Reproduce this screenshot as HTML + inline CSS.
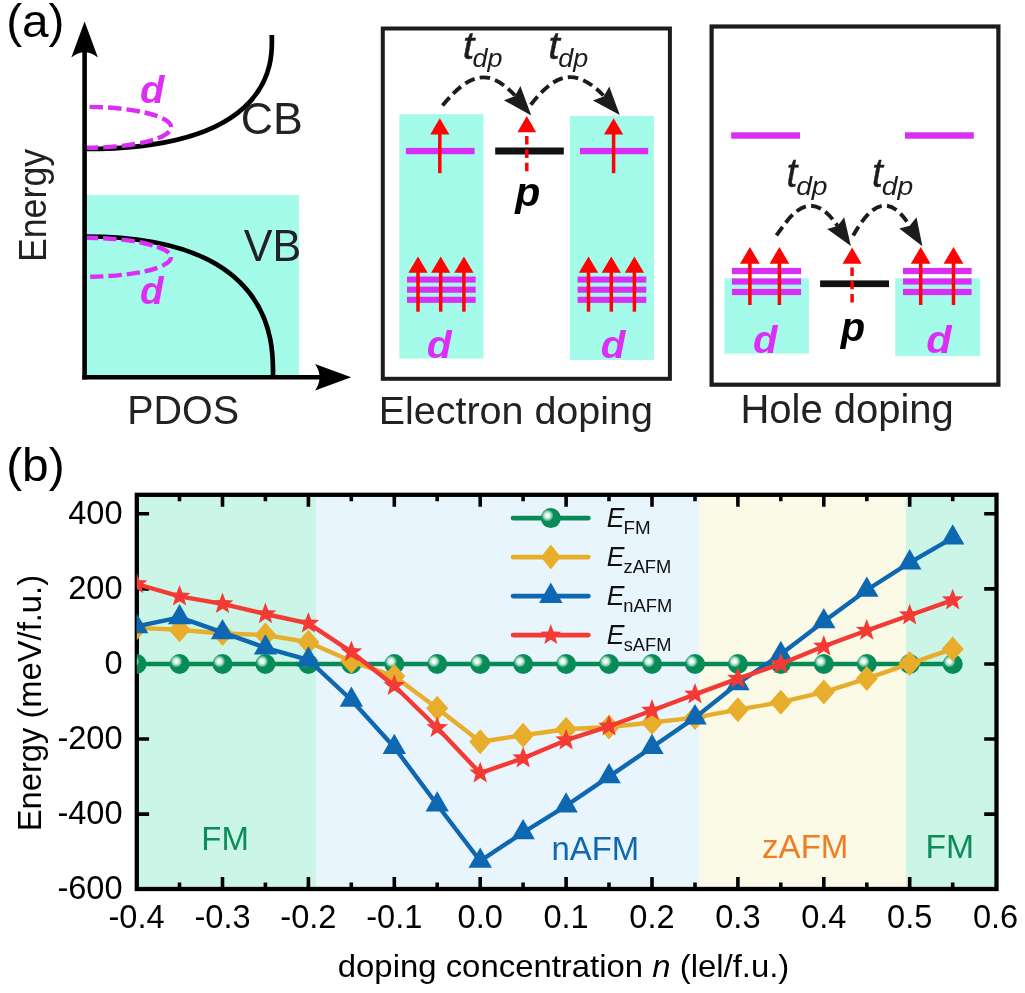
<!DOCTYPE html>
<html><head><meta charset="utf-8"><style>
html,body{margin:0;padding:0;background:#fff;}
body{width:1025px;height:993px;overflow:hidden;}
svg{display:block;will-change:transform;font-family:"Liberation Sans", sans-serif;}
</style></head><body>
<svg width="1025" height="993" viewBox="0 0 1025 993">
<rect x="84" y="195" width="215" height="182" fill="#a5fbea"/>
<path d="M85,149 C283.4,149 271.8,52 271.8,35" fill="none" stroke="#000" stroke-width="4.7"/>
<path d="M85,236.5 C279.9,236.5 273,349.4 273,377" fill="none" stroke="#000" stroke-width="4.7"/>
<path d="M85,147.8 A86.2,20.5 0 0 0 85,106.8" fill="none" stroke="#da2ef5" stroke-width="4.4" stroke-dasharray="13.4 4.99"/>
<path d="M85,237.8 A86.1,19.5 0 0 1 85,276.8" fill="none" stroke="#da2ef5" stroke-width="4.4" stroke-dasharray="13.3 4.9"/>
<line x1="84.6" y1="50" x2="84.6" y2="379.5" stroke="#000" stroke-width="4.6"/>
<line x1="82.3" y1="377.2" x2="330" y2="377.2" stroke="#000" stroke-width="4.6"/>
<path d="M84.6,21.5 L97.9,57.4 Q84.6,47 71.3,57.4 Z" fill="#000"/>
<path d="M351.2,377.2 L315.1,363.9 Q324,377.2 315.1,390.5 Z" fill="#000"/>
<rect x="382.8" y="28.5" width="287.1" height="350.3" fill="none" stroke="#1c1c1c" stroke-width="4"/>
<rect x="399.3" y="114.2" width="84.2" height="244.3" fill="#a5fbea"/>
<rect x="569.9" y="116" width="84" height="244" fill="#a5fbea"/>
<rect x="405.9" y="147.9" width="68.7" height="6.3" fill="#da2ef5"/>
<rect x="495.2" y="147.5" width="68.6" height="7" fill="#111"/>
<rect x="579.9" y="147.9" width="68.3" height="6.3" fill="#da2ef5"/>
<path d="M439.8,118.3 L449.40000000000003,134.5 L430.2,134.5 Z" fill="#fd0303"/><line x1="439.8" y1="133.5" x2="439.8" y2="173.2" stroke="#fd0303" stroke-width="3.5"/>
<path d="M526.8,115.9 L536.15,132.3 L517.4499999999999,132.3 Z" fill="#fd0303"/><line x1="526.8" y1="136.10000000000002" x2="526.8" y2="171.3" stroke="#fd0303" stroke-width="3.5" stroke-dasharray="8.5 4.8"/>
<path d="M613.6,118.3 L623.2,134.5 L604.0,134.5 Z" fill="#fd0303"/><line x1="613.6" y1="133.5" x2="613.6" y2="173.2" stroke="#fd0303" stroke-width="3.5"/>
<rect x="407" y="276.55" width="68.7" height="6.1" fill="#da2ef5"/>
<rect x="577.6" y="276.55" width="68.7" height="6.1" fill="#da2ef5"/>
<rect x="407" y="286.65" width="68.7" height="6.1" fill="#da2ef5"/>
<rect x="577.6" y="286.65" width="68.7" height="6.1" fill="#da2ef5"/>
<rect x="407" y="296.75" width="68.7" height="6.1" fill="#da2ef5"/>
<rect x="577.6" y="296.75" width="68.7" height="6.1" fill="#da2ef5"/>
<path d="M418,256.6 L427.65,272.8 L408.35,272.8 Z" fill="#fd0303"/><line x1="418" y1="271.8" x2="418" y2="311.7" stroke="#fd0303" stroke-width="3.5"/>
<path d="M440.7,256.6 L450.34999999999997,272.8 L431.05,272.8 Z" fill="#fd0303"/><line x1="440.7" y1="271.8" x2="440.7" y2="311.7" stroke="#fd0303" stroke-width="3.5"/>
<path d="M463.9,256.6 L473.54999999999995,272.8 L454.25,272.8 Z" fill="#fd0303"/><line x1="463.9" y1="271.8" x2="463.9" y2="311.7" stroke="#fd0303" stroke-width="3.5"/>
<path d="M588.5,256.6 L598.15,272.8 L578.85,272.8 Z" fill="#fd0303"/><line x1="588.5" y1="271.8" x2="588.5" y2="311.7" stroke="#fd0303" stroke-width="3.5"/>
<path d="M611.3,256.6 L620.9499999999999,272.8 L601.65,272.8 Z" fill="#fd0303"/><line x1="611.3" y1="271.8" x2="611.3" y2="311.7" stroke="#fd0303" stroke-width="3.5"/>
<path d="M634.4,256.6 L644.05,272.8 L624.75,272.8 Z" fill="#fd0303"/><line x1="634.4" y1="271.8" x2="634.4" y2="311.7" stroke="#fd0303" stroke-width="3.5"/>
<path d="M442.5,105.5 C470.7,71.5 489.1,68.4 515,95.5" fill="none" stroke="#1c1c1c" stroke-width="3.9" stroke-dasharray="10.5 5.3"/>
<path d="M531.3,115.5 L520.4,86 L514.8,96.2 L504,100.3 Z" fill="#1c1c1c"/>
<path d="M530.8,104.8 C555.1,73.4 574.9,66.5 603.5,95.5" fill="none" stroke="#1c1c1c" stroke-width="3.9" stroke-dasharray="10.5 5.3"/>
<path d="M619.8,115.1 L609.3,86.4 L603.7,96.4 L592.9,100.4 Z" fill="#1c1c1c"/>
<rect x="711.6" y="26.5" width="286.8" height="358.2" fill="none" stroke="#1c1c1c" stroke-width="4.2"/>
<rect x="724.4" y="278.3" width="84.5" height="75.4" fill="#a5fbea"/>
<rect x="895.2" y="278.3" width="84.8" height="77.9" fill="#a5fbea"/>
<rect x="731.2" y="132.3" width="68.8" height="6.4" fill="#da2ef5"/>
<rect x="905" y="132.3" width="68.8" height="6.4" fill="#da2ef5"/>
<rect x="731.9" y="267.9" width="69.2" height="6.2" fill="#da2ef5"/>
<rect x="903" y="267.9" width="68.6" height="6.2" fill="#da2ef5"/>
<rect x="731.9" y="278.4" width="69.2" height="6.2" fill="#da2ef5"/>
<rect x="903" y="278.4" width="68.6" height="6.2" fill="#da2ef5"/>
<rect x="731.9" y="288.9" width="69.2" height="6.2" fill="#da2ef5"/>
<rect x="903" y="288.9" width="68.6" height="6.2" fill="#da2ef5"/>
<rect x="820.1" y="280.4" width="68.9" height="6.7" fill="#111"/>
<path d="M749.9,247 L759.8,263.7 L740.0,263.7 Z" fill="#fd0303"/><line x1="749.9" y1="262.7" x2="749.9" y2="305" stroke="#fd0303" stroke-width="3.5"/>
<path d="M779.4,247 L789.3,263.7 L769.5,263.7 Z" fill="#fd0303"/><line x1="779.4" y1="262.7" x2="779.4" y2="305" stroke="#fd0303" stroke-width="3.5"/>
<path d="M920.7,247 L930.6,263.7 L910.8000000000001,263.7 Z" fill="#fd0303"/><line x1="920.7" y1="262.7" x2="920.7" y2="305" stroke="#fd0303" stroke-width="3.5"/>
<path d="M953.5,247 L963.4,263.7 L943.6,263.7 Z" fill="#fd0303"/><line x1="953.5" y1="262.7" x2="953.5" y2="305" stroke="#fd0303" stroke-width="3.5"/>
<path d="M852.1,247.4 L861.6,263.7 L842.6,263.7 Z" fill="#fd0303"/><line x1="852.1" y1="267.5" x2="852.1" y2="305" stroke="#fd0303" stroke-width="3.5" stroke-dasharray="8.5 4.8"/>
<path d="M776.4,235.4 C788.7,218.9 808.7,183.1 837.6,226.1" fill="none" stroke="#1c1c1c" stroke-width="3.9" stroke-dasharray="10.5 5.3"/>
<path d="M850.9,246 L844.2,217.3 L837.6,226.1 L827.2,229 Z" fill="#1c1c1c"/>
<path d="M853.2,235.4 C865.1,215.1 884.8,185.1 909.7,225.8" fill="none" stroke="#1c1c1c" stroke-width="3.9" stroke-dasharray="10.5 5.3"/>
<path d="M922.4,246.3 L916.5,217.3 L909.7,225.8 L899.3,228.4 Z" fill="#1c1c1c"/>
<defs><radialGradient id="sg" cx="0.335" cy="0.37" r="0.31" fx="0.335" fy="0.37"><stop offset="0" stop-color="#ffffff"/><stop offset="0.3" stop-color="#eef8f3"/><stop offset="0.62" stop-color="#9bd8bd"/><stop offset="0.86" stop-color="#3aa87c"/><stop offset="1" stop-color="#078c58"/></radialGradient><clipPath id="pc"><rect x="136.8" y="494.8" width="859.7" height="394.2"/></clipPath></defs>
<rect x="136.8" y="494.8" width="179.39999999999998" height="394.2" fill="#cbf5e6"/>
<rect x="316.2" y="494.8" width="383.40000000000003" height="394.2" fill="#e8f5fc"/>
<rect x="699.6" y="494.8" width="206.29999999999995" height="394.2" fill="#fbfae7"/>
<rect x="905.9" y="494.8" width="90.60000000000002" height="394.2" fill="#cbf5e6"/>
<rect x="136.8" y="494.8" width="859.7" height="394.2" fill="none" stroke="#000" stroke-width="4.3"/>
<path d="M179.5,889.0 V882.5 M179.5,494.8 V501.3 M222.5,889.0 V877.0 M222.5,494.8 V506.8 M265.4,889.0 V882.5 M265.4,494.8 V501.3 M308.4,889.0 V877.0 M308.4,494.8 V506.8 M351.3,889.0 V882.5 M351.3,494.8 V501.3 M394.3,889.0 V877.0 M394.3,494.8 V506.8 M437.2,889.0 V882.5 M437.2,494.8 V501.3 M480.2,889.0 V877.0 M480.2,494.8 V506.8 M523.1,889.0 V882.5 M523.1,494.8 V501.3 M566.1,889.0 V877.0 M566.1,494.8 V506.8 M609.0,889.0 V882.5 M609.0,494.8 V501.3 M652.0,889.0 V877.0 M652.0,494.8 V506.8 M695.0,889.0 V882.5 M695.0,494.8 V501.3 M737.9,889.0 V877.0 M737.9,494.8 V506.8 M780.8,889.0 V882.5 M780.8,494.8 V501.3 M823.8,889.0 V877.0 M823.8,494.8 V506.8 M866.8,889.0 V882.5 M866.8,494.8 V501.3 M909.7,889.0 V877.0 M909.7,494.8 V506.8 M952.7,889.0 V882.5 M952.7,494.8 V501.3 M136.8,814.1 H149.10000000000002 M996.5,814.1 H984.2 M136.8,739.0 H149.10000000000002 M996.5,739.0 H984.2 M136.8,664.0 H149.10000000000002 M996.5,664.0 H984.2 M136.8,588.9 H149.10000000000002 M996.5,588.9 H984.2 M136.8,513.8 H149.10000000000002 M996.5,513.8 H984.2" stroke="#000" stroke-width="3.6" fill="none"/>
<g clip-path="url(#pc)">
<polyline points="136.6,664.0 179.6,664.0 222.5,664.0 265.4,664.0 308.4,664.0 351.4,664.0 394.3,664.0 437.2,664.0 480.2,664.0 523.1,664.0 566.1,664.0 609.0,664.0 652.0,664.0 695.0,664.0 737.9,664.0 780.8,664.0 823.8,664.0 866.8,664.0 909.7,664.0 952.7,664.0" fill="none" stroke="#088a57" stroke-width="4.4" stroke-linejoin="round"/>
<circle cx="136.6" cy="664.0" r="10" fill="url(#sg)"/>
<circle cx="179.6" cy="664.0" r="10" fill="url(#sg)"/>
<circle cx="222.5" cy="664.0" r="10" fill="url(#sg)"/>
<circle cx="265.4" cy="664.0" r="10" fill="url(#sg)"/>
<circle cx="308.4" cy="664.0" r="10" fill="url(#sg)"/>
<circle cx="351.4" cy="664.0" r="10" fill="url(#sg)"/>
<circle cx="394.3" cy="664.0" r="10" fill="url(#sg)"/>
<circle cx="437.2" cy="664.0" r="10" fill="url(#sg)"/>
<circle cx="480.2" cy="664.0" r="10" fill="url(#sg)"/>
<circle cx="523.1" cy="664.0" r="10" fill="url(#sg)"/>
<circle cx="566.1" cy="664.0" r="10" fill="url(#sg)"/>
<circle cx="609.0" cy="664.0" r="10" fill="url(#sg)"/>
<circle cx="652.0" cy="664.0" r="10" fill="url(#sg)"/>
<circle cx="695.0" cy="664.0" r="10" fill="url(#sg)"/>
<circle cx="737.9" cy="664.0" r="10" fill="url(#sg)"/>
<circle cx="780.8" cy="664.0" r="10" fill="url(#sg)"/>
<circle cx="823.8" cy="664.0" r="10" fill="url(#sg)"/>
<circle cx="866.8" cy="664.0" r="10" fill="url(#sg)"/>
<circle cx="909.7" cy="664.0" r="10" fill="url(#sg)"/>
<circle cx="952.7" cy="664.0" r="10" fill="url(#sg)"/>
<polyline points="136.6,627.9 179.6,629.8 222.5,633.5 265.4,635.0 308.4,642.2 351.4,661.3 394.3,676.3 437.2,708.2 480.2,741.7 523.1,735.3 566.1,729.3 609.0,727.0 652.0,722.5 695.0,717.6 737.9,709.7 780.8,702.2 823.8,692.1 866.8,678.6 909.7,663.6 952.7,648.9" fill="none" stroke="#e9ad2c" stroke-width="4.4" stroke-linejoin="round"/>
<path d="M136.6,615.4 L147.6,627.9 L136.6,640.4 L125.6,627.9 Z" fill="#e9ad2c"/>
<path d="M179.6,617.3 L190.6,629.8 L179.6,642.3 L168.6,629.8 Z" fill="#e9ad2c"/>
<path d="M222.5,621.0 L233.5,633.5 L222.5,646.0 L211.5,633.5 Z" fill="#e9ad2c"/>
<path d="M265.4,622.5 L276.4,635.0 L265.4,647.5 L254.4,635.0 Z" fill="#e9ad2c"/>
<path d="M308.4,629.7 L319.4,642.2 L308.4,654.7 L297.4,642.2 Z" fill="#e9ad2c"/>
<path d="M351.4,648.8 L362.4,661.3 L351.4,673.8 L340.4,661.3 Z" fill="#e9ad2c"/>
<path d="M394.3,663.8 L405.3,676.3 L394.3,688.8 L383.3,676.3 Z" fill="#e9ad2c"/>
<path d="M437.2,695.7 L448.2,708.2 L437.2,720.7 L426.2,708.2 Z" fill="#e9ad2c"/>
<path d="M480.2,729.2 L491.2,741.7 L480.2,754.2 L469.2,741.7 Z" fill="#e9ad2c"/>
<path d="M523.1,722.8 L534.1,735.3 L523.1,747.8 L512.1,735.3 Z" fill="#e9ad2c"/>
<path d="M566.1,716.8 L577.1,729.3 L566.1,741.8 L555.1,729.3 Z" fill="#e9ad2c"/>
<path d="M609.0,714.5 L620.0,727.0 L609.0,739.5 L598.0,727.0 Z" fill="#e9ad2c"/>
<path d="M652.0,710.0 L663.0,722.5 L652.0,735.0 L641.0,722.5 Z" fill="#e9ad2c"/>
<path d="M695.0,705.1 L706.0,717.6 L695.0,730.1 L684.0,717.6 Z" fill="#e9ad2c"/>
<path d="M737.9,697.2 L748.9,709.7 L737.9,722.2 L726.9,709.7 Z" fill="#e9ad2c"/>
<path d="M780.8,689.7 L791.8,702.2 L780.8,714.7 L769.8,702.2 Z" fill="#e9ad2c"/>
<path d="M823.8,679.6 L834.8,692.1 L823.8,704.6 L812.8,692.1 Z" fill="#e9ad2c"/>
<path d="M866.8,666.1 L877.8,678.6 L866.8,691.1 L855.8,678.6 Z" fill="#e9ad2c"/>
<path d="M909.7,651.1 L920.7,663.6 L909.7,676.1 L898.7,663.6 Z" fill="#e9ad2c"/>
<path d="M952.7,636.4 L963.7,648.9 L952.7,661.4 L941.7,648.9 Z" fill="#e9ad2c"/>
<polyline points="136.6,626.4 179.6,617.4 222.5,632.4 265.4,647.8 308.4,659.8 351.4,700.0 394.3,747.3 437.2,804.7 480.2,861.0 523.1,832.5 566.1,805.8 609.0,776.6 652.0,747.3 695.0,717.6 737.9,683.5 780.8,654.2 823.8,621.5 866.8,590.0 909.7,562.6 952.7,537.8" fill="none" stroke="#0e67b1" stroke-width="4.4" stroke-linejoin="round"/>
<path d="M136.6,612.9 L148.3,633.2 L124.9,633.2 Z" fill="#0e67b1"/>
<path d="M179.6,603.9 L191.2,624.2 L167.9,624.2 Z" fill="#0e67b1"/>
<path d="M222.5,618.9 L234.2,639.2 L210.8,639.2 Z" fill="#0e67b1"/>
<path d="M265.4,634.3 L277.1,654.6 L253.8,654.6 Z" fill="#0e67b1"/>
<path d="M308.4,646.3 L320.1,666.6 L296.7,666.6 Z" fill="#0e67b1"/>
<path d="M351.4,686.5 L363.1,706.7 L339.7,706.7 Z" fill="#0e67b1"/>
<path d="M394.3,733.8 L406.0,754.0 L382.6,754.0 Z" fill="#0e67b1"/>
<path d="M437.2,791.2 L448.9,811.5 L425.6,811.5 Z" fill="#0e67b1"/>
<path d="M480.2,847.5 L491.9,867.8 L468.5,867.8 Z" fill="#0e67b1"/>
<path d="M523.1,819.0 L534.9,839.2 L511.4,839.2 Z" fill="#0e67b1"/>
<path d="M566.1,792.3 L577.8,812.6 L554.4,812.6 Z" fill="#0e67b1"/>
<path d="M609.0,763.1 L620.8,783.3 L597.3,783.3 Z" fill="#0e67b1"/>
<path d="M652.0,733.8 L663.7,754.0 L640.3,754.0 Z" fill="#0e67b1"/>
<path d="M695.0,704.1 L706.7,724.4 L683.2,724.4 Z" fill="#0e67b1"/>
<path d="M737.9,670.0 L749.6,690.2 L726.2,690.2 Z" fill="#0e67b1"/>
<path d="M780.8,640.7 L792.5,660.9 L769.1,660.9 Z" fill="#0e67b1"/>
<path d="M823.8,608.0 L835.5,628.3 L812.1,628.3 Z" fill="#0e67b1"/>
<path d="M866.8,576.5 L878.5,596.8 L855.0,596.8 Z" fill="#0e67b1"/>
<path d="M909.7,549.1 L921.4,569.4 L898.0,569.4 Z" fill="#0e67b1"/>
<path d="M952.7,524.3 L964.4,544.6 L941.0,544.6 Z" fill="#0e67b1"/>
<polyline points="136.6,584.0 179.6,596.4 222.5,603.9 265.4,614.0 308.4,623.4 351.4,651.9 394.3,685.7 437.2,727.8 480.2,773.2 523.1,758.2 566.1,740.2 609.0,726.3 652.0,710.5 695.0,694.4 737.9,678.6 780.8,664.0 823.8,646.3 866.8,630.5 909.7,615.2 952.7,600.1" fill="none" stroke="#f33a35" stroke-width="4.4" stroke-linejoin="round"/>
<polygon points="136.6,572.6 139.4,580.1 147.4,580.5 141.2,585.5 143.3,593.2 136.6,588.8 129.9,593.2 132.0,585.5 125.8,580.5 133.8,580.1" fill="#f33a35"/>
<polygon points="179.6,585.0 182.4,592.5 190.4,592.9 184.1,597.9 186.3,605.6 179.6,601.2 172.8,605.6 175.0,597.9 168.7,592.9 176.7,592.5" fill="#f33a35"/>
<polygon points="222.5,592.5 225.3,600.0 233.3,600.4 227.1,605.4 229.2,613.1 222.5,608.7 215.8,613.1 217.9,605.4 211.7,600.4 219.7,600.0" fill="#f33a35"/>
<polygon points="265.4,602.6 268.3,610.2 276.3,610.5 270.0,615.5 272.2,623.2 265.4,618.8 258.7,623.2 260.9,615.5 254.6,610.5 262.6,610.2" fill="#f33a35"/>
<polygon points="308.4,612.0 311.2,619.5 319.2,619.9 313.0,624.9 315.1,632.6 308.4,628.2 301.7,632.6 303.8,624.9 297.6,619.9 305.6,619.5" fill="#f33a35"/>
<polygon points="351.4,640.5 354.2,648.1 362.2,648.4 355.9,653.4 358.1,661.2 351.4,656.7 344.6,661.2 346.8,653.4 340.5,648.4 348.5,648.1" fill="#f33a35"/>
<polygon points="394.3,674.3 397.1,681.8 405.1,682.2 398.9,687.2 401.0,694.9 394.3,690.5 387.6,694.9 389.7,687.2 383.5,682.2 391.5,681.8" fill="#f33a35"/>
<polygon points="437.2,716.4 440.1,723.9 448.1,724.2 441.8,729.2 444.0,737.0 437.2,732.6 430.5,737.0 432.7,729.2 426.4,724.2 434.4,723.9" fill="#f33a35"/>
<polygon points="480.2,761.8 483.0,769.3 491.0,769.7 484.8,774.7 486.9,782.4 480.2,778.0 473.5,782.4 475.6,774.7 469.4,769.7 477.4,769.3" fill="#f33a35"/>
<polygon points="523.1,746.8 526.0,754.3 534.0,754.6 527.7,759.6 529.9,767.4 523.1,763.0 516.4,767.4 518.6,759.6 512.3,754.6 520.3,754.3" fill="#f33a35"/>
<polygon points="566.1,728.8 568.9,736.3 576.9,736.6 570.7,741.6 572.8,749.4 566.1,744.9 559.4,749.4 561.5,741.6 555.3,736.6 563.3,736.3" fill="#f33a35"/>
<polygon points="609.0,714.9 611.9,722.4 619.9,722.7 613.6,727.7 615.8,735.5 609.0,731.0 602.3,735.5 604.5,727.7 598.2,722.7 606.2,722.4" fill="#f33a35"/>
<polygon points="652.0,699.1 654.8,706.6 662.8,707.0 656.6,712.0 658.7,719.7 652.0,715.3 645.3,719.7 647.4,712.0 641.2,707.0 649.2,706.6" fill="#f33a35"/>
<polygon points="695.0,683.0 697.8,690.5 705.8,690.8 699.5,695.8 701.7,703.6 695.0,699.1 688.2,703.6 690.4,695.8 684.1,690.8 692.1,690.5" fill="#f33a35"/>
<polygon points="737.9,667.2 740.7,674.7 748.7,675.1 742.5,680.1 744.6,687.8 737.9,683.4 731.2,687.8 733.3,680.1 727.1,675.1 735.1,674.7" fill="#f33a35"/>
<polygon points="780.8,652.6 783.7,660.1 791.7,660.4 785.4,665.4 787.6,673.2 780.8,668.7 774.1,673.2 776.3,665.4 770.0,660.4 778.0,660.1" fill="#f33a35"/>
<polygon points="823.8,634.9 826.6,642.4 834.6,642.8 828.4,647.8 830.5,655.5 823.8,651.1 817.1,655.5 819.2,647.8 813.0,642.8 821.0,642.4" fill="#f33a35"/>
<polygon points="866.8,619.1 869.6,626.7 877.6,627.0 871.3,632.0 873.5,639.8 866.8,635.3 860.0,639.8 862.2,632.0 855.9,627.0 863.9,626.7" fill="#f33a35"/>
<polygon points="909.7,603.8 912.5,611.3 920.5,611.6 914.3,616.6 916.4,624.4 909.7,619.9 903.0,624.4 905.1,616.6 898.9,611.6 906.9,611.3" fill="#f33a35"/>
<polygon points="952.7,588.7 955.5,596.3 963.5,596.6 957.2,601.6 959.4,609.4 952.7,604.9 945.9,609.4 948.1,601.6 941.8,596.6 949.8,596.3" fill="#f33a35"/>
</g>
<line x1="513" y1="518.1" x2="588.4" y2="518.1" stroke="#088a57" stroke-width="4.6" stroke-linecap="round"/>
<line x1="513" y1="557.1" x2="588.4" y2="557.1" stroke="#e9ad2c" stroke-width="4.6" stroke-linecap="round"/>
<line x1="513" y1="596.1" x2="588.4" y2="596.1" stroke="#0e67b1" stroke-width="4.6" stroke-linecap="round"/>
<line x1="513" y1="635.1" x2="588.4" y2="635.1" stroke="#f33a35" stroke-width="4.6" stroke-linecap="round"/>
<circle cx="550.8" cy="518.1" r="10" fill="url(#sg)"/>
<path d="M550.8,544.6 L560.8,557.1 L550.8,569.6 L540.8,557.1 Z" fill="#e9ad2c"/>
<path d="M550.8,582.6 L562.5,602.9 L539.1,602.9 Z" fill="#0e67b1"/>
<polygon points="550.8,624.1 553.5,631.4 561.3,631.7 555.2,636.5 557.3,644.0 550.8,639.7 544.3,644.0 546.4,636.5 540.3,631.7 548.1,631.4" fill="#f33a35"/>
<text x="122.6" y="899.4" font-size="32.6" text-anchor="end" fill="#000">-600</text>
<text x="122.6" y="824.3" font-size="32.6" text-anchor="end" fill="#000">-400</text>
<text x="122.6" y="749.2" font-size="32.6" text-anchor="end" fill="#000">-200</text>
<text x="122.6" y="674.2" font-size="32.6" text-anchor="end" fill="#000">0</text>
<text x="122.6" y="599.1" font-size="32.6" text-anchor="end" fill="#000">200</text>
<text x="122.6" y="524.0" font-size="32.6" text-anchor="end" fill="#000">400</text>
<text x="136.6" y="927.8" font-size="32.6" text-anchor="middle" fill="#000">-0.4</text>
<text x="222.5" y="927.8" font-size="32.6" text-anchor="middle" fill="#000">-0.3</text>
<text x="308.4" y="927.8" font-size="32.6" text-anchor="middle" fill="#000">-0.2</text>
<text x="394.3" y="927.8" font-size="32.6" text-anchor="middle" fill="#000">-0.1</text>
<text x="480.2" y="927.8" font-size="32.6" text-anchor="middle" fill="#000">0.0</text>
<text x="566.1" y="927.8" font-size="32.6" text-anchor="middle" fill="#000">0.1</text>
<text x="652.0" y="927.8" font-size="32.6" text-anchor="middle" fill="#000">0.2</text>
<text x="737.9" y="927.8" font-size="32.6" text-anchor="middle" fill="#000">0.3</text>
<text x="823.8" y="927.8" font-size="32.6" text-anchor="middle" fill="#000">0.4</text>
<text x="909.7" y="927.8" font-size="32.6" text-anchor="middle" fill="#000">0.5</text>
<text x="995.6" y="927.8" font-size="32.6" text-anchor="middle" fill="#000">0.6</text>
<text x="6.20" y="37.10" font-size="46.85" fill="#000" textLength="58.32" lengthAdjust="spacingAndGlyphs">(a)</text>
<text x="240.85" y="133.70" font-size="44.7" fill="#222226" textLength="62.08" lengthAdjust="spacingAndGlyphs">CB</text>
<text x="243.86" y="260.60" font-size="44.7" fill="#222226" textLength="57.53" lengthAdjust="spacingAndGlyphs">VB</text>
<text x="127.23" y="423.70" font-size="40.5" fill="#222226" textLength="111.80" lengthAdjust="spacingAndGlyphs">PDOS</text>
<text transform="translate(46.30,262.12) rotate(-90)" font-size="38" fill="#222226" textLength="113.27" lengthAdjust="spacingAndGlyphs">Energy</text>
<text x="140.06" y="103.30" font-size="38.5" font-weight="bold" font-style="italic" fill="#de2ef5" textLength="24.39" lengthAdjust="spacingAndGlyphs">d</text>
<text x="140.10" y="304.40" font-size="38.5" font-weight="bold" font-style="italic" fill="#de2ef5" textLength="23.58" lengthAdjust="spacingAndGlyphs">d</text>
<text x="426.84" y="357.60" font-size="38.5" font-weight="bold" font-style="italic" fill="#de2ef5" textLength="24.90" lengthAdjust="spacingAndGlyphs">d</text>
<text x="600.65" y="357.60" font-size="38.5" font-weight="bold" font-style="italic" fill="#de2ef5" textLength="24.70" lengthAdjust="spacingAndGlyphs">d</text>
<text x="515.33" y="205.90" font-size="40" font-weight="bold" font-style="italic" fill="#000" textLength="25.09" lengthAdjust="spacingAndGlyphs">p</text>
<text x="462.69" y="59.40" font-size="38" font-style="italic" fill="#1c1c1c" stroke="#1c1c1c" stroke-width="0.4" textLength="11.54" lengthAdjust="spacingAndGlyphs">t</text>
<text x="472.61" y="67.40" font-size="25.7" font-style="italic" fill="#1c1c1c" textLength="29.95" lengthAdjust="spacingAndGlyphs">dp</text>
<text x="548.29" y="59.40" font-size="38" font-style="italic" fill="#1c1c1c" stroke="#1c1c1c" stroke-width="0.4" textLength="11.54" lengthAdjust="spacingAndGlyphs">t</text>
<text x="558.21" y="67.40" font-size="25.7" font-style="italic" fill="#1c1c1c" textLength="29.95" lengthAdjust="spacingAndGlyphs">dp</text>
<text x="378.69" y="423.90" font-size="39.4" fill="#222226" textLength="274.19" lengthAdjust="spacingAndGlyphs">Electron doping</text>
<text x="752.96" y="352.60" font-size="38.5" font-weight="bold" font-style="italic" fill="#de2ef5" textLength="24.49" lengthAdjust="spacingAndGlyphs">d</text>
<text x="926.32" y="353.20" font-size="38.5" font-weight="bold" font-style="italic" fill="#de2ef5" textLength="25.40" lengthAdjust="spacingAndGlyphs">d</text>
<text x="840.80" y="340.60" font-size="40" font-weight="bold" font-style="italic" fill="#000" textLength="24.39" lengthAdjust="spacingAndGlyphs">p</text>
<text x="786.49" y="186.80" font-size="40" font-style="italic" fill="#1c1c1c" stroke="#1c1c1c" stroke-width="0.4" textLength="10.87" lengthAdjust="spacingAndGlyphs">t</text>
<text x="796.17" y="194.60" font-size="25.7" font-style="italic" fill="#1c1c1c" textLength="31.44" lengthAdjust="spacingAndGlyphs">dp</text>
<text x="872.09" y="186.80" font-size="40" font-style="italic" fill="#1c1c1c" stroke="#1c1c1c" stroke-width="0.4" textLength="10.87" lengthAdjust="spacingAndGlyphs">t</text>
<text x="881.77" y="194.60" font-size="25.7" font-style="italic" fill="#1c1c1c" textLength="31.44" lengthAdjust="spacingAndGlyphs">dp</text>
<text x="740.45" y="423.00" font-size="40" fill="#222226" textLength="213.35" lengthAdjust="spacingAndGlyphs">Hole doping</text>
<text x="201.33" y="849.80" font-size="34" fill="#0d8c5b" textLength="47.58" lengthAdjust="spacingAndGlyphs">FM</text>
<text x="551.57" y="859.80" font-size="33.2" fill="#1067b0" textLength="87.62" lengthAdjust="spacingAndGlyphs">nAFM</text>
<text x="762.07" y="857.90" font-size="33.7" fill="#f07d23" textLength="86.28" lengthAdjust="spacingAndGlyphs">zAFM</text>
<text x="925.45" y="857.90" font-size="33.7" fill="#0d8c5b" textLength="48.58" lengthAdjust="spacingAndGlyphs">FM</text>
<text x="606.68" y="527.10" font-size="27.7" font-style="italic" fill="#111" textLength="17.65" lengthAdjust="spacingAndGlyphs">E</text>
<text x="623.59" y="534.10" font-size="18.7" fill="#111" textLength="27.10" lengthAdjust="spacingAndGlyphs">FM</text>
<text x="606.68" y="566.10" font-size="27.7" font-style="italic" fill="#111" textLength="17.65" lengthAdjust="spacingAndGlyphs">E</text>
<text x="623.46" y="573.10" font-size="18.7" fill="#111" textLength="47.91" lengthAdjust="spacingAndGlyphs">zAFM</text>
<text x="606.68" y="605.10" font-size="27.7" font-style="italic" fill="#111" textLength="17.65" lengthAdjust="spacingAndGlyphs">E</text>
<text x="623.37" y="612.10" font-size="18.7" fill="#111" textLength="48.95" lengthAdjust="spacingAndGlyphs">nAFM</text>
<text x="606.68" y="644.10" font-size="27.7" font-style="italic" fill="#111" textLength="17.65" lengthAdjust="spacingAndGlyphs">E</text>
<text x="623.71" y="651.10" font-size="18.7" fill="#111" textLength="47.65" lengthAdjust="spacingAndGlyphs">sAFM</text>
<text transform="translate(41.10,831.26) rotate(-90)" font-size="33.8" fill="#000" textLength="256.29" lengthAdjust="spacingAndGlyphs">Energy (meV/f.u.)</text>
<text x="337.77" y="976.50" font-size="30.9" fill="#000" textLength="451.58" lengthAdjust="spacingAndGlyphs">doping concentration <tspan font-style="italic">n</tspan> (lel/f.u.)</text>
<text x="6.19" y="481.40" font-size="46.75" fill="#000" textLength="58.47" lengthAdjust="spacingAndGlyphs">(b)</text>
</svg>
</body></html>
